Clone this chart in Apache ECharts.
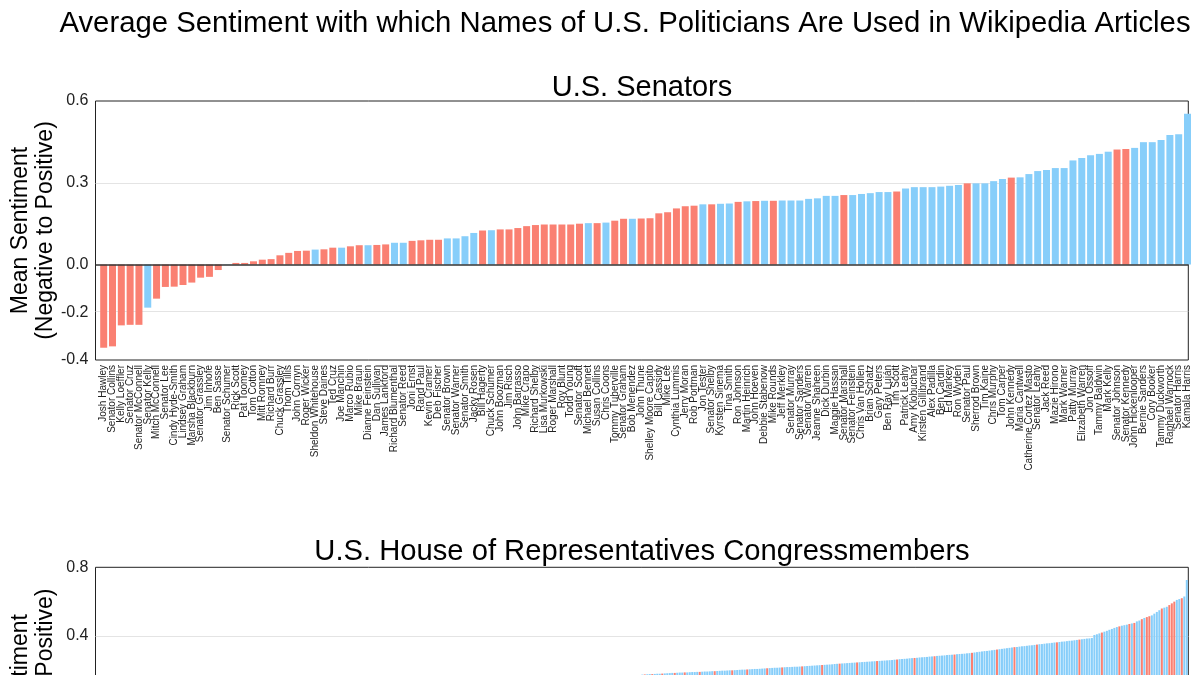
<!DOCTYPE html>
<html>
<head>
<meta charset="UTF-8">
<title>Average Sentiment of U.S. Politicians in Wikipedia</title>
<script src="https://cdn.jsdelivr.net/npm/echarts@6/dist/echarts.min.js"></script>
<style>
html, body { margin: 0; padding: 0; background: #fff; }
#main { width: 1200px; height: 675px; }
</style>
</head>
<body>
<div id="main"></div>
<script type="text/javascript">
// senators, sorted by mean sentiment
var senateNames = [
    'Josh Hawley','Senator Collins','Kelly Loeffler','Senator Cruz','Senator McConnell','Senator Kelly','Mitch McConnell','Senator Lee','Cindy Hyde-Smith','Lindsey Graham',
    'Marsha Blackburn','Senator Grassley','Jim Inhofe','Ben Sasse','Senator Schumer','Rick Scott','Pat Toomey','Tom Cotton','Mitt Romney','Richard Burr',
    'Chuck Grassley','Thom Tillis','John Cornyn','Roger Wicker','Sheldon Whitehouse','Steve Daines','Ted Cruz','Joe Manchin','Marco Rubio','Mike Braun',
    'Dianne Feinstein','Dan Sullivan','James Lankford','Richard Blumenthal','Senator Reed','Joni Ernst','Rand Paul','Kevin Cramer','Deb Fischer','Senator Brown',
    'Senator Warner','Senator Smith','Jacky Rosen','Bill Hagerty','Chuck Schumer','John Boozman','Jim Risch','John Barrasso','Mike Crapo','Richard Shelby',
    'Lisa Murkowski','Roger Marshall','Roy Blunt','Todd Young','Senator Scott','Michael Bennet','Susan Collins','Chris Coons','Tommy Tuberville','Senator Graham',
    'Bob Menendez','John Thune','Shelley Moore Capito','Bill Cassidy','Mike Lee','Cynthia Lummis','Jerry Moran','Rob Portman','Jon Tester','Senator Shelby',
    'Kyrsten Sinema','Tina Smith','Ron Johnson','Martin Heinrich','John Hoeven','Debbie Stabenow','Mike Rounds','Jeff Merkley','Senator Murray','Senator Sanders',
    'Senator Warren','Jeanne Shaheen','Dick Durbin','Maggie Hassan','Senator Marshall','Senator Feinstein','Chris Van Hollen','Brian Schatz','Gary Peters','Ben Ray Luján',
    'Tim Scott','Patrick Leahy','Amy Klobuchar','Kirsten Gillibrand','Alex Padilla','Ben Cardin','Ed Markey','Ron Wyden','Senator Paul','Sherrod Brown',
    'Tim Kaine','Chris Murphy','Tom Carper','John Kennedy','Maria Cantwell','Catherine Cortez Masto','Senator Leahy','Jack Reed','Mazie Hirono','Mark Warner',
    'Patty Murray','Elizabeth Warren','Jon Ossoff','Tammy Baldwin','Mark Kelly','Senator Johnson','Senator Kennedy','John Hickenlooper','Bernie Sanders','Cory Booker',
    'Tammy Duckworth','Raphael Warnock','Senator Harris','Kamala Harris'
];
var senateValues = [
    -0.305,-0.300,-0.223,-0.221,-0.221,-0.158,-0.125,-0.082,-0.081,-0.075,
    -0.066,-0.048,-0.045,-0.020,0.001,0.006,0.006,0.012,0.018,0.020,
    0.034,0.043,0.050,0.051,0.055,0.056,0.062,0.062,0.067,0.071,
    0.071,0.072,0.074,0.080,0.080,0.087,0.089,0.091,0.091,0.096,
    0.096,0.104,0.116,0.125,0.126,0.129,0.129,0.134,0.141,0.145,
    0.147,0.147,0.147,0.147,0.150,0.152,0.152,0.154,0.161,0.168,
    0.168,0.169,0.170,0.188,0.192,0.206,0.214,0.216,0.221,0.221,
    0.223,0.224,0.230,0.232,0.233,0.234,0.234,0.235,0.235,0.235,
    0.241,0.243,0.252,0.252,0.255,0.255,0.259,0.262,0.266,0.266,
    0.268,0.279,0.284,0.284,0.284,0.286,0.289,0.292,0.298,0.298,
    0.298,0.306,0.314,0.319,0.320,0.332,0.343,0.347,0.354,0.354,
    0.382,0.391,0.401,0.406,0.414,0.422,0.424,0.428,0.449,0.449,
    0.457,0.475,0.478,0.553
];
// R = Republican (salmon), D = Democrat / independent (light blue)
var senateParty = 'RRRRRDRRRR' + 'RRRRDRRRRR' + 'RRRRDRRDRR' + 'DRRDDRRRRD' + 'DDDRDRRRRR' +
    'RRRRRDRDRR' + 'DRRRRRRRDR' + 'DDRDRDRDDD' + 'DDDDRDDDDD' + 'RDDDDDDDRD' +
    'DDDRDDDDDD' + 'DDDDDRRDDD' + 'DDDD';
var senateTickValues = [-0.35, -0.175, 0, 0.3, 0.6];
var senateTickLabels = ['-0.4', '-0.2', '0.0', '0.3', '0.6'];
var senateGridValues = [0.3, -0.175];

// house members, sorted by mean sentiment (left part lies below the visible area)
var houseValues = [
    -0.55,-0.5,-0.42,-0.38,-0.33,-0.3,-0.28,-0.25,-0.22,-0.2,-0.18,-0.16,-0.15,-0.13,-0.12,-0.1,-0.09,-0.08,-0.07,-0.06,
    -0.05,-0.05,-0.04,-0.04,-0.03,-0.03,-0.02,-0.02,-0.02,-0.01,-0.01,-0.01,0,0,0,0.01,0.01,0.01,0.02,0.02,
    0.02,0.02,0.03,0.03,0.03,0.03,0.04,0.04,0.04,0.04,0.04,0.05,0.05,0.05,0.05,0.05,0.06,0.06,0.06,0.06,
    0.06,0.07,0.07,0.07,0.07,0.07,0.08,0.08,0.08,0.08,0.08,0.08,0.09,0.09,0.09,0.09,0.09,0.09,0.1,0.1,
    0.1,0.1,0.1,0.1,0.11,0.11,0.11,0.11,0.11,0.11,0.11,0.12,0.12,0.12,0.12,0.12,0.12,0.12,0.12,0.12,
    0.13,0.13,0.13,0.13,0.13,0.13,0.13,0.13,0.13,0.13,0.13,0.13,0.14,0.14,0.14,0.14,0.14,0.14,0.14,0.14,
    0.14,0.14,0.14,0.14,0.14,0.14,0.15,0.15,0.15,0.15,0.15,0.15,0.15,0.15,0.15,0.15,0.15,0.15,0.15,0.15,
    0.15,0.15,0.15,0.15,0.15,0.16,0.16,0.16,0.16,0.16,0.16,0.16,0.16,0.16,0.16,0.16,0.16,0.16,0.16,0.16,
    0.16,0.16,0.16,0.16,0.16,0.16,0.165,0.165,0.165,0.165,0.165,0.165,0.165,0.165,0.165,0.165,0.165,0.165,0.165,0.165,
    0.168,0.168,0.168,0.168,0.168,0.168,0.168,0.168,0.168,0.168,0.17,0.17,0.17,0.17,0.17,0.17,0.17,0.17,0.17,0.17,
    0.17,0.17,0.17,0.17,0.17,0.17,0.17,0.17,0.17,0.17,0.17,0.17,0.17,0.17,0.17,0.17,0.17,0.17,
    0.175,0.176,0.177,0.178,0.178,0.179,0.18,0.18,0.181,0.182,0.183,0.184,0.185,0.185,0.186,0.187,0.187,0.188,0.188,0.189,
    0.19,0.19,0.191,0.191,0.192,
    0.193,0.193,0.194,0.195,0.195,0.196,0.197,0.198,0.198,0.199,0.2,0.2,0.201,0.202,0.203,0.204,0.204,0.205,0.206,0.207,
    0.208,0.208,0.209,0.21,0.211,0.212,0.213,
    0.214,0.215,0.215,0.216,0.217,0.218,0.219,0.219,0.22,0.221,0.221,0.222,0.223,0.224,0.225,0.226,0.227,0.228,0.229,0.23,
    0.231,0.232,0.233,0.234,0.235,0.237,
    0.238,0.239,0.24,0.241,0.242,0.243,0.244,0.245,0.246,0.247,0.248,0.249,0.25,0.251,0.252,0.253,0.254,0.255,0.256,0.257,
    0.258,0.259,0.26,0.262,0.263,0.265,0.266,
    0.267,0.268,0.27,0.271,0.272,0.273,0.275,0.276,0.277,0.278,0.28,0.281,0.282,0.284,0.285,0.286,0.287,0.289,0.29,0.291,
    0.292,0.294,0.295,0.296,0.297,0.299,0.3,
    0.302,0.304,0.306,0.308,0.31,0.312,0.313,0.315,0.317,0.319,0.321,0.323,0.325,0.327,0.329,0.331,0.333,0.335,0.336,0.338,
    0.34,0.341,0.343,0.345,0.346,0.348,
    0.35,0.352,0.353,0.355,0.357,0.358,0.36,0.362,0.363,0.365,0.367,0.368,0.37,0.372,0.373,0.375,0.377,0.379,0.381,0.383,
    0.385,0.386,0.388,
    0.406,0.41,0.415,0.42,0.425,0.43,0.436,0.441,0.447,
    0.452,0.456,0.46,0.463,0.466,0.47,0.473,0.476,
    0.485,0.49,0.498,0.505,
    0.51,0.515,0.52,0.53,0.54,0.55,0.56,0.565,0.57,0.58,
    0.59,0.6,0.61,0.615,0.62,0.63,
    0.726
];
var houseParty =
    'RRRRRRRRDRRRRRRRRRRR' + 'RRRRRDRRRRRRRRRRRRRR' + 'RRRRRRRRRRRDRRRRRRRR' + 'RRRRRRRRRRRRRRRRRRRR' +
    'RRRRRRRRRRDRRRRRRRRR' + 'RRRRRRRRRRRRRRRRDRRR' + 'RRRRRRRRRRRRRRRRRRRR' + 'RRRRRRRRRRDRRRRRRRRR' +
    'RRRRRRRRRRRRRRRRRRRR' + 'RDRRRRRRDRRRRDRRRRRD' + 'RRRDRRRRDRRRDRRDRR' +
    'DRDDRDDDRDDDDRDDDRDD' + 'DDDRDDDDDRDDDDDDRDDD' + 'DDRDDDDDDDRDDDDDRDDD' + 'DDDDRDDDDDDDRDDDDDDR' +
    'DDDDDDRDDDDDDDRDDDDD' + 'DDRDDDDDDRDDDDDDDRDD' + 'DDDDDRDDDDDDRDDDDDDD' + 'DDRDDDDDDRDDDDDDDDRD' +
    'DDDDDDRDDDDDDDDRDDDD' + 'DDDDRDDDDDDRDDDRDRDD' + 'RDRRDDDDRDDRRRDDRDD';
var houseTickValues = [-0.4, 0, 0.4, 0.8];
var houseGridValues = [0.4];

var RED = '#FA8072';
var BLUE = '#87CEFA';
var FONT = 'Liberation Sans, Arial, sans-serif';

function toPoints(values) {
    return values.map(function (v, i) { return [i, v]; });
}
function gridLines(values) {
    return values.map(function (v) { return { yAxis: v }; });
}
// senator name labels are split over two axes (even / odd positions) so none gets dropped
function nameIndices(parity) {
    var out = [];
    senateNames.forEach(function (n, i) { if (i % 2 === parity) out.push(i); });
    return out;
}
function nameAxis(parity) {
    return {
        gridIndex: 0, type: 'value', min: -0.93, max: 123.09, position: 'bottom', offset: 0,
        axisLine: { show: false }, axisTick: { show: false }, splitLine: { show: false },
        axisLabel: {
            customValues: nameIndices(parity),
            formatter: function (v) { return senateNames[v]; },
            showMinLabel: true, showMaxLabel: true, hideOverlap: false,
            rotate: 90, fontSize: 10, color: '#222', margin: 5, fontFamily: FONT
        }
    };
}

var myChart = echarts.init(document.getElementById('main'));

var option = {
    animation: false,
    backgroundColor: '#fff',
    textStyle: { fontFamily: FONT },
    title: [
        {
            text: 'Average Sentiment with which Names of U.S. Politicians Are Used in Wikipedia Articles',
            left: 625, top: 9, textAlign: 'center', padding: 0,
            textStyle: { fontSize: 29.3, fontWeight: 'normal', color: '#000', fontFamily: FONT }
        },
        {
            text: 'U.S. Senators',
            left: 642, top: 73, textAlign: 'center', padding: 0,
            textStyle: { fontSize: 29, fontWeight: 'normal', color: '#000', fontFamily: FONT }
        },
        {
            text: 'U.S. House of Representatives Congressmembers',
            left: 642, top: 537, textAlign: 'center', padding: 0,
            textStyle: { fontSize: 29.2, fontWeight: 'normal', color: '#000', fontFamily: FONT }
        }
    ],
    grid: [
        { left: 95.5, top: 101, width: 1092.8, height: 259, outerBoundsMode: 'none', containLabel: false,
          show: true, borderColor: '#222', borderWidth: 1, backgroundColor: 'transparent' },
        { left: 95.5, top: 567.3, width: 1092.8, height: 261, outerBoundsMode: 'none', containLabel: false,
          show: true, borderColor: '#222', borderWidth: 1, backgroundColor: 'transparent' }
    ],
    xAxis: [
        nameAxis(0),
        nameAxis(1),
        {
            gridIndex: 1, type: 'value', min: -0.9, max: houseValues.length - 0.4,
            axisLine: { show: false }, axisTick: { show: false }, splitLine: { show: false },
            axisLabel: { show: false }
        }
    ],
    yAxis: [
        {
            gridIndex: 0, type: 'value', min: -0.35, max: 0.6,
            axisLine: { show: false }, axisTick: { show: false }, splitLine: { show: false },
            axisLabel: {
                customValues: senateTickValues,
                formatter: function (v) {
                    var best = 0;
                    senateTickValues.forEach(function (t, i) {
                        if (Math.abs(t - v) < Math.abs(senateTickValues[best] - v)) best = i;
                    });
                    return senateTickLabels[best];
                },
                showMinLabel: true, showMaxLabel: true,
                fontSize: 16, color: '#222', margin: 7, fontFamily: FONT
            },
            name: 'Mean Sentiment\n(Negative to Positive)',
            nameLocation: 'middle', nameRotate: 90, nameGap: 37, nameMoveOverlap: false,
            nameTextStyle: { fontSize: 23, lineHeight: 25, color: '#000', fontFamily: FONT }
        },
        {
            gridIndex: 1, type: 'value', min: -0.72, max: 0.8,
            axisLine: { show: false }, axisTick: { show: false }, splitLine: { show: false },
            axisLabel: {
                customValues: houseTickValues,
                formatter: function (v) { return v.toFixed(1); },
                showMinLabel: true, showMaxLabel: true,
                fontSize: 16, color: '#222', margin: 7, fontFamily: FONT
            },
            name: 'Mean Sentiment\n(Negative to Positive)',
            nameLocation: 'middle', nameRotate: 90, nameGap: 37, nameMoveOverlap: false,
            nameTextStyle: { fontSize: 23, lineHeight: 25, color: '#000', fontFamily: FONT }
        }
    ],
    series: [
        {
            // dotted reference lines behind the senate bars
            type: 'line', xAxisIndex: 0, yAxisIndex: 0, data: [], z: 1,
            markLine: {
                silent: true, symbol: 'none', z: 1, label: { show: false },
                lineStyle: { type: 'dotted', color: '#c8c8c8', width: 1 },
                data: gridLines(senateGridValues)
            }
        },
        {
            name: 'Senators', type: 'bar', xAxisIndex: 0, yAxisIndex: 0,
            barWidth: 7, z: 2,
            data: toPoints(senateValues),
            itemStyle: {
                color: function (p) { return senateParty[p.dataIndex] === 'R' ? RED : BLUE; }
            },
            markLine: {
                silent: true, symbol: 'none', label: { show: false },
                lineStyle: { type: 'solid', color: '#333', width: 1.5 },
                data: [{ yAxis: 0 }]
            }
        },
        {
            type: 'line', xAxisIndex: 2, yAxisIndex: 1, data: [], z: 1,
            markLine: {
                silent: true, symbol: 'none', z: 1, label: { show: false },
                lineStyle: { type: 'dotted', color: '#c8c8c8', width: 1 },
                data: gridLines(houseGridValues)
            }
        },
        {
            name: 'House', type: 'bar', xAxisIndex: 2, yAxisIndex: 1,
            barWidth: 2, z: 2,
            data: toPoints(houseValues),
            itemStyle: {
                color: function (p) { return houseParty[p.dataIndex] === 'R' ? RED : BLUE; }
            },
            markLine: {
                silent: true, symbol: 'none', label: { show: false },
                lineStyle: { type: 'solid', color: '#333', width: 1.5 },
                data: [{ yAxis: 0 }]
            }
        }
    ]
};

myChart.setOption(option);
</script>
</body>
</html>
